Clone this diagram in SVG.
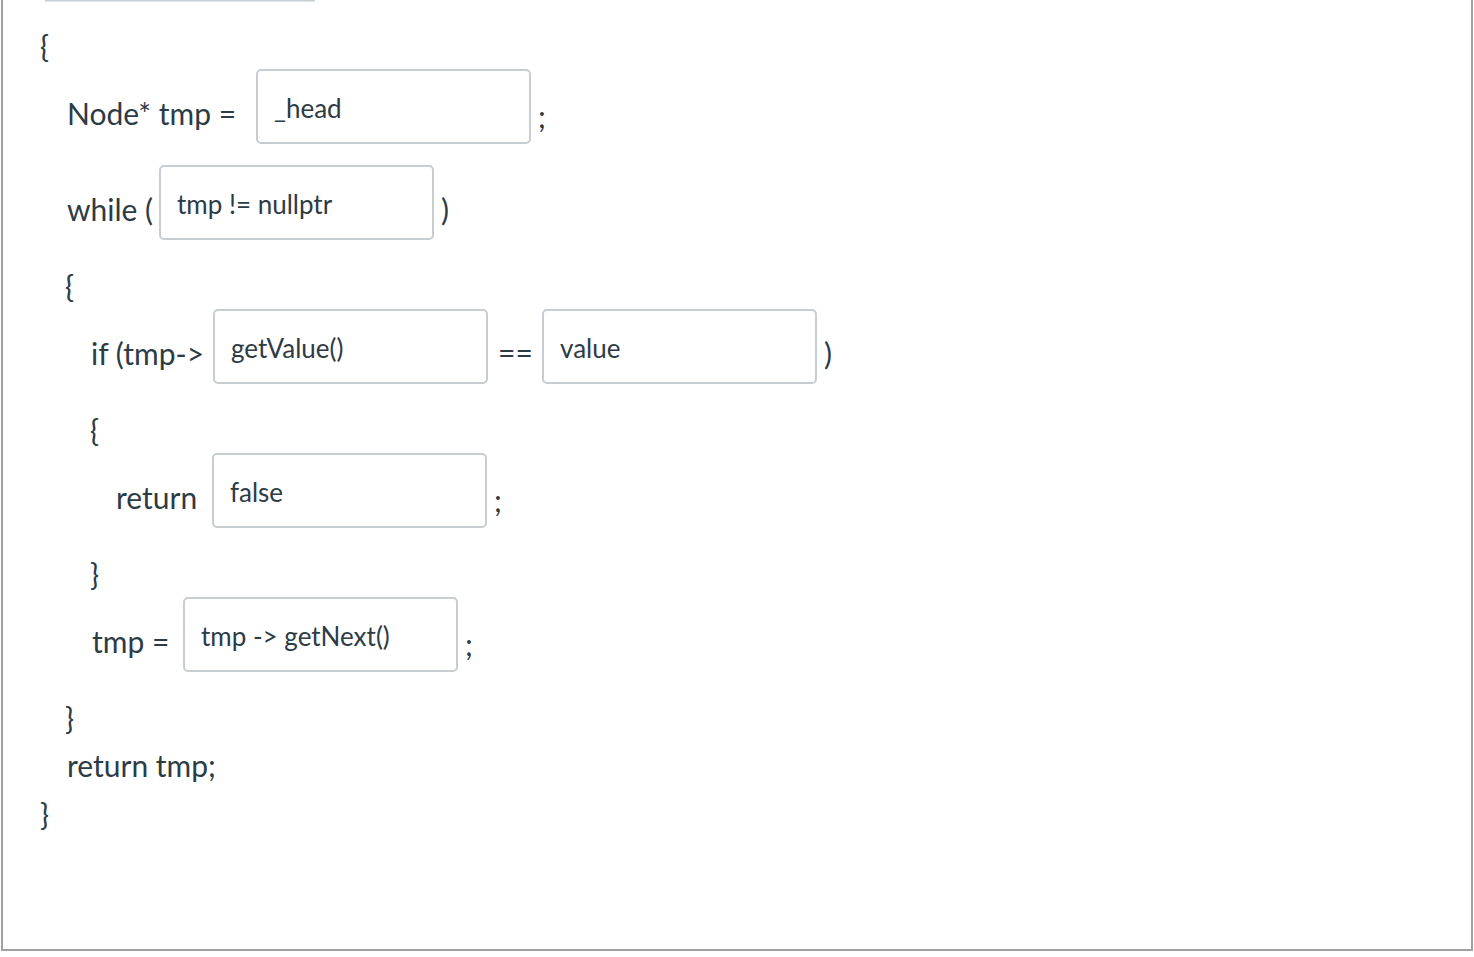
<svg xmlns="http://www.w3.org/2000/svg" width="1474" height="957" viewBox="0 0 1474 957">
<style>
.t{font-family:Lato,"Noto Sans",sans-serif;font-size:30px;fill:#2d3b45}
.i{font-family:Lato,"Noto Sans",sans-serif;font-size:26px;fill:#2d3b45}
.b{fill:#fff;stroke:#c7cdd1;stroke-width:2}
</style>
<rect width="1474" height="957" fill="#fff"/>
<line x1="45" y1="0.5" x2="315" y2="0.5" stroke="#c7cdd1" stroke-width="2"/>
<rect x="2" y="-5" width="1470" height="955" fill="none" stroke="#a0a0a0" stroke-width="2"/>
<text class="t" x="40" y="58">{</text>
<text class="t" x="67" y="125">Node* tmp =</text>
<rect class="b" x="257" y="70" width="273" height="73" rx="4"/>
<text class="i" x="274" y="118">_head</text>
<text class="t" x="538" y="128">;</text>
<text class="t" x="67" y="221">while (</text>
<rect class="b" x="160" y="166" width="273" height="73" rx="4"/>
<text class="i" x="177" y="214">tmp != nullptr</text>
<text class="t" x="441" y="221">)</text>
<text class="t" x="65" y="298">{</text>
<text class="t" x="91" y="365">if (tmp-&gt;</text>
<rect class="b" x="214" y="310" width="273" height="73" rx="4"/>
<text class="i" x="231" y="358">getValue()</text>
<text class="t" x="498" y="364">==</text>
<rect class="b" x="543" y="310" width="273" height="73" rx="4"/>
<text class="i" x="560" y="358">value</text>
<text class="t" x="824" y="365">)</text>
<text class="t" x="90" y="442">{</text>
<text class="t" x="116" y="509">return</text>
<rect class="b" x="213" y="454" width="273" height="73" rx="4"/>
<text class="i" x="230" y="502">false</text>
<text class="t" x="494" y="512">;</text>
<text class="t" x="90" y="586">}</text>
<text class="t" x="92" y="653">tmp =</text>
<rect class="b" x="184" y="598" width="273" height="73" rx="4"/>
<text class="i" x="201" y="646">tmp -&gt; getNext()</text>
<text class="t" x="465" y="656">;</text>
<text class="t" x="65" y="730">}</text>
<text class="t" x="67" y="777">return tmp;</text>
<text class="t" x="40" y="826">}</text>
</svg>
